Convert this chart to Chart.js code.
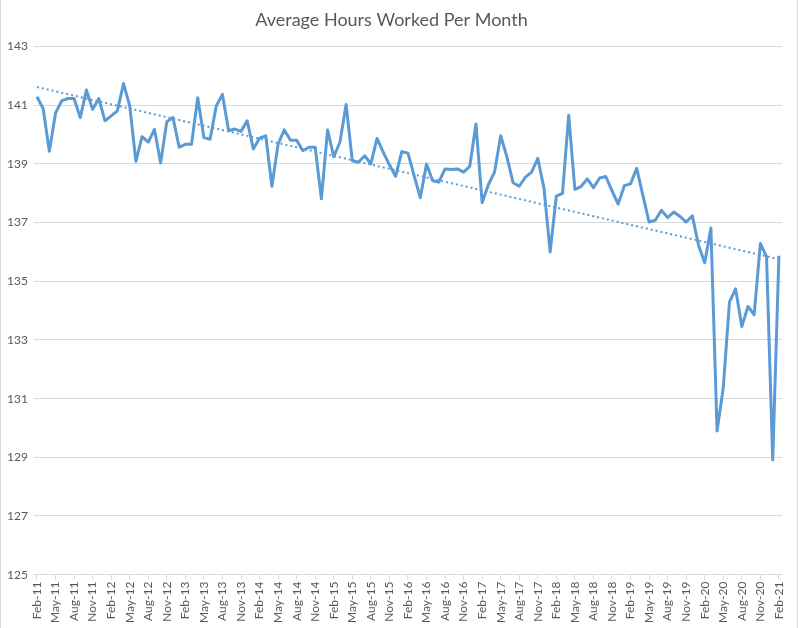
<!DOCTYPE html>
<html>
<head>
<meta charset="utf-8">
<title>Average Hours Worked Per Month</title>
<script src="https://cdn.jsdelivr.net/npm/chart.js@4.4.1/dist/chart.umd.min.js"></script>
<style>
    html, body { margin: 0; padding: 0; background: #fff; }
    #wrap {
        width: 798px;
        height: 628px;
        box-sizing: border-box;
        border-left: 1px solid #d9d9d9;
        border-right: 1px solid #d9d9d9;
        position: relative;
    }
</style>
</head>
<body>
<div id="wrap"><canvas id="hoursChart"></canvas></div>
<script>
// Month names used to build the category labels (Feb-11 .. Feb-21)
const monthNames = ['Jan', 'Feb', 'Mar', 'Apr', 'May', 'Jun', 'Jul', 'Aug', 'Sep', 'Oct', 'Nov', 'Dec'];
const firstMonth = 1;   // Feb
const firstYear = 11;   // 2011
const monthCount = 121; // Feb-11 through Feb-21

// Average hours worked, one value per month
const hoursWorked = [
    141.29, 140.89, 139.43, 140.73, 141.15, 141.23, 141.23, 140.58, 141.52, 140.86,
    141.23, 140.47, 140.64, 140.81, 141.74, 140.98, 139.09, 139.93, 139.74, 140.18,
    139.03, 140.44, 140.58, 139.57, 139.67, 139.67, 141.26, 139.90, 139.84, 140.98,
    141.37, 140.13, 140.19, 140.11, 140.47, 139.51, 139.88, 139.96, 138.24, 139.68,
    140.16, 139.81, 139.81, 139.45, 139.57, 139.57, 137.81, 140.16, 139.25, 139.74,
    141.03, 139.11, 139.06, 139.28, 139.00, 139.87, 139.40, 138.97, 138.58, 139.42,
    139.37, 138.60, 137.85, 139.00, 138.43, 138.38, 138.83, 138.81, 138.83, 138.72,
    138.92, 140.36, 137.68, 138.29, 138.72, 139.96, 139.25, 138.36, 138.24, 138.55,
    138.72, 139.19, 138.18, 136.00, 137.90, 138.00, 140.66, 138.13, 138.23, 138.49,
    138.19, 138.52, 138.57, 138.09, 137.63, 138.26, 138.32, 138.85, 137.93, 137.02,
    137.08, 137.42, 137.17, 137.36, 137.21, 137.02, 137.23, 136.23, 135.63, 136.82,
    129.90, 131.37, 134.29, 134.74, 133.46, 134.14, 133.86, 136.29, 135.84, 128.91,
    135.87
];

// Y axis range and step
const yMin = 125;
const yMax = 143;
const yStep = 2;

// Show a tick label every 3 months
const labelEvery = 3;

const months = [];
for (let i = 0; i < monthCount; i++) {
    const m = (firstMonth + i) % 12;
    const y = firstYear + Math.floor((firstMonth + i) / 12);
    months.push(monthNames[m] + '-' + String(y).padStart(2, '0'));
}

// Linear trendline (least squares), like Excel's
function linearTrend(values) {
    const n = values.length;
    let sx = 0, sy = 0, sxy = 0, sxx = 0;
    values.forEach(function (v, i) {
        sx += i; sy += v; sxy += i * v; sxx += i * i;
    });
    const slope = (n * sxy - sx * sy) / (n * sxx - sx * sx);
    const intercept = (sy - slope * sx) / n;
    return values.map(function (v, i) { return intercept + slope * i; });
}

const trend = linearTrend(hoursWorked);

Chart.defaults.font.family = "Lato, 'Noto Sans', sans-serif";
Chart.defaults.color = '#595959';

new Chart(document.getElementById('hoursChart').getContext('2d'), {
    type: 'line',
    data: {
        labels: months,
        datasets: [{
            label: 'Hours',
            data: hoursWorked,
            borderColor: '#5b9bd5',
            borderWidth: 3,
            pointRadius: 0,
            tension: 0,
            borderJoinStyle: 'round'
        }, {
            label: 'Linear (Hours)',
            data: trend,
            borderColor: '#5b9bd5',
            borderWidth: 2,
            borderDash: [2, 3],
            pointRadius: 0,
            tension: 0
        }]
    },
    options: {
        responsive: true,
        maintainAspectRatio: false,
        animation: false,
        layout: {
            padding: { left: 0, right: 15, top: 0, bottom: 3 }
        },
        plugins: {
            legend: { display: false },
            tooltip: { enabled: false },
            title: {
                display: true,
                text: 'Average Hours Worked Per Month',
                color: '#595959',
                font: { size: 18, weight: 'normal' },
                padding: { top: 9, bottom: 16 }
            }
        },
        scales: {
            x: {
                offset: true,
                grid: {
                    drawOnChartArea: false,
                    drawTicks: true,
                    tickLength: 5,
                    color: '#d9d9d9'
                },
                border: { color: '#d9d9d9' },
                ticks: {
                    autoSkip: false,
                    minRotation: 90,
                    maxRotation: 90,
                    padding: 2,
                    font: { size: 12 },
                    callback: function (value, index) {
                        return index % labelEvery === 0 ? months[index] : null;
                    }
                }
            },
            y: {
                min: yMin,
                max: yMax,
                grid: {
                    color: '#d9d9d9',
                    drawTicks: false
                },
                border: { display: false },
                ticks: {
                    stepSize: yStep,
                    padding: 6,
                    font: { size: 12 }
                }
            }
        }
    }
});
</script>
</body>
</html>
